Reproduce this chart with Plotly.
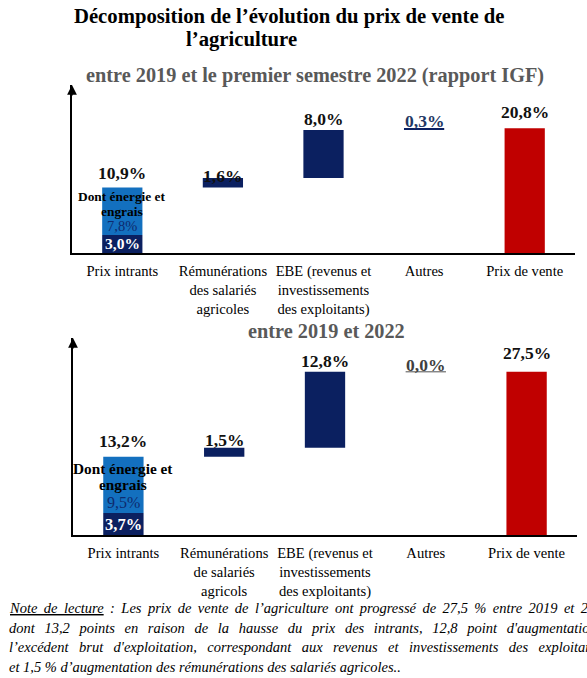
import plotly.graph_objects as go
import numpy as np

W, H = 587, 678

categories_top = ["Prix intrants", "Rémunérations<br>des salariés<br>agricoles",
                  "EBE (revenus et<br>investissements<br>des exploitants)", "Autres", "Prix de vente"]
categories_bot = ["Prix intrants", "Rémunérations<br>de salariés<br>agricols",
                  "EBE (revenus et<br>investissements<br>des exploitants)", "Autres", "Prix de vente"]

# Top chart: 2019 -> S1 2022 (IGF)
top_contrib = [10.9, 1.6, 8.0, 0.3]      # intrants, rémunérations, EBE, autres
top_price = 20.8
top_energie = 7.8
top_autres_intrants = 3.0
top_labels = ["10,9%", "1,6%", "8,0%", "0,3%", "20,8%"]

# Bottom chart: 2019 -> 2022
bot_contrib = [13.2, 1.5, 12.8, 0.0]
bot_price = 27.5
bot_energie = 9.5
bot_autres_intrants = 3.7
bot_labels = ["13,2%", "1,5%", "12,8%", "0,0%", "27,5%"]

NAVY = "#0b2060"
BLUE = "#1370bf"
RED = "#c00000"
FONT = "Liberation Serif"


def px(x):
    return x / W


def py(y):
    return 1 - y / H


def fmt(v):
    return ("%.1f%%" % v).replace(".", ",")


fig = go.Figure()
annotations = []


def add_chart(suffix, contrib, price, energie, autres_int, labels, ymax,
              label_shifts, label_colors, inbar_sizes, inbar_shifts, white_size):
    xa = "x" + suffix
    ya = "y" + suffix
    contrib = np.array(contrib, dtype=float)
    bases = np.concatenate([[0.0], np.cumsum(contrib)[:-1]])
    tops = bases + contrib
    fig.add_trace(go.Bar(x=[0, 1, 2, 3], y=[autres_int, contrib[1], contrib[2], contrib[3]],
                         base=[0, bases[1], bases[2], bases[3]], width=0.4,
                         marker=dict(color=NAVY, line=dict(width=0)),
                         xaxis=xa, yaxis=ya, showlegend=False, hoverinfo="skip"))
    fig.add_trace(go.Bar(x=[0], y=[contrib[0] - autres_int], base=[autres_int], width=0.4,
                         marker=dict(color=BLUE, line=dict(width=0)),
                         xaxis=xa, yaxis=ya, showlegend=False, hoverinfo="skip"))
    fig.add_trace(go.Bar(x=[4], y=[price], base=[0], width=0.4,
                         marker=dict(color=RED, line=dict(width=0)),
                         xaxis=xa, yaxis=ya, showlegend=False, hoverinfo="skip"))
    for i, v in enumerate(contrib):
        if v == 0:
            fig.add_trace(go.Scatter(x=[i - 0.2, i + 0.2], y=[bases[i], bases[i]], mode="lines",
                                     line=dict(color="#505050", width=1),
                                     xaxis=xa, yaxis=ya, showlegend=False, hoverinfo="skip"))
    all_tops = list(tops) + [price]
    for i, (lab, t) in enumerate(zip(labels, all_tops)):
        annotations.append(dict(x=i, y=t, xref=xa, yref=ya, text="<b>%s</b>" % lab, showarrow=False,
                                yanchor="middle", yshift=label_shifts[i],
                                font=dict(family=FONT, size=17.5, color=label_colors[i])))
    # in-bar labels
    annotations.append(dict(x=0, y=autres_int / 2, xref=xa, yref=ya, text="<b>%s</b>" % fmt(autres_int),
                            showarrow=False, yanchor="middle",
                            font=dict(family=FONT, size=white_size, color="white")))
    mid = (autres_int + contrib[0]) / 2
    inner = ["<b>Dont énergie et</b>", "<b>engrais</b>", fmt(energie)]
    colors = ["black", "black", "#0e2a6e"]
    for txt, sh, c, s in zip(inner, inbar_shifts, colors, inbar_sizes):
        annotations.append(dict(x=0, y=mid, xref=xa, yref=ya, text=txt, showarrow=False,
                                yanchor="middle", yshift=sh,
                                font=dict(family=FONT, size=s, color=c)))
    annotations.append(dict(x=-0.5, y=ymax, xref=xa, yref=ya, ax=0, ay=12, text="", showarrow=True,
                            arrowhead=2, arrowsize=1.3, arrowwidth=1.5, arrowcolor="black"))


add_chart("", top_contrib, top_price, top_energie, top_autres_intrants, top_labels,
          28.0, [15, 2, 11, 7, 16], ["#111111", "#111111", "#111111", "#1f3864", "#111111"],
          [13.4, 13.4, 14.5], [14.5, 0, -15], 15.5)
add_chart("2", bot_contrib, bot_price, bot_energie, bot_autres_intrants, bot_labels,
          33.2, [16, 8, 11, 7, 19], ["#111111", "#111111", "#111111", "#404040", "#111111"],
          [15.3, 15.3, 16], [16, 0, -18], 16.5)

axis_common = dict(range=[-0.5, 4.5], tickvals=[0, 1, 2, 3, 4], showline=True, linecolor="black",
                   linewidth=1.5, showgrid=False, zeroline=False, ticks="", ticklabelstandoff=4,
                   tickfont=dict(family=FONT, size=14.6, color="black"), fixedrange=True)
yaxis_common = dict(showline=True, linecolor="black", linewidth=1.5, showgrid=False, zeroline=False,
                    showticklabels=False, ticks="", fixedrange=True)

annotations += [
    dict(x=px(289), y=py(16), xref="paper", yref="paper", showarrow=False, yanchor="middle",
         text="<b>Décomposition de l’évolution du prix de vente de</b>",
         font=dict(family=FONT, size=20.7, color="black")),
    dict(x=px(241), y=py(40), xref="paper", yref="paper", showarrow=False, yanchor="middle",
         text="<b>l’agriculture</b>", font=dict(family=FONT, size=20.7, color="black")),
    dict(x=px(315), y=py(75), xref="paper", yref="paper", showarrow=False, yanchor="middle",
         text="<b>entre 2019 et le premier semestre 2022 (rapport IGF)</b>",
         font=dict(family=FONT, size=20.3, color="#595959")),
    dict(x=px(326), y=py(331), xref="paper", yref="paper", showarrow=False, yanchor="middle",
         text="<b>entre 2019 et 2022</b>", font=dict(family=FONT, size=20.3, color="#595959")),
]
note_lines = [
    "<u>Note de lecture</u> : Les prix de vente de l’agriculture ont progressé de 27,5 % entre 2019 et 2022,",
    "dont 13,2 points en raison de la hausse du prix des intrants, 12,8 point d'augmentation de",
    "l’excédent brut d'exploitation, correspondant aux revenus et investissements des exploitants,",
    "et 1,5 % d’augmentation des rémunérations des salariés agricoles..",
]
note_wordspacing = [2.8, 6, 6.8, 0]
for k, line in enumerate(note_lines):
    txt = "<i><span style='word-spacing:%.1fpx'>%s</span></i>" % (note_wordspacing[k], line)
    annotations.append(dict(x=px(7), y=py(608 + 19.5 * k), xref="paper", yref="paper", showarrow=False,
                            xanchor="left", yanchor="middle", text=txt,
                            font=dict(family=FONT, size=14.5, color="black")))

fig.update_layout(
    width=W, height=H, margin=dict(l=0, r=0, t=0, b=0),
    paper_bgcolor="white", plot_bgcolor="white", barmode="overlay",
    xaxis=dict(axis_common, domain=[px(72), px(575)], ticktext=categories_top, anchor="y"),
    yaxis=dict(yaxis_common, domain=[py(253), py(85)], range=[0, 28.0], anchor="x"),
    xaxis2=dict(axis_common, domain=[px(73), px(577)], ticktext=categories_bot, anchor="y2"),
    yaxis2=dict(yaxis_common, domain=[py(535), py(338)], range=[0, 33.2], anchor="x2"),
    annotations=annotations,
    showlegend=False,
)

fig.write_html("out.html")
